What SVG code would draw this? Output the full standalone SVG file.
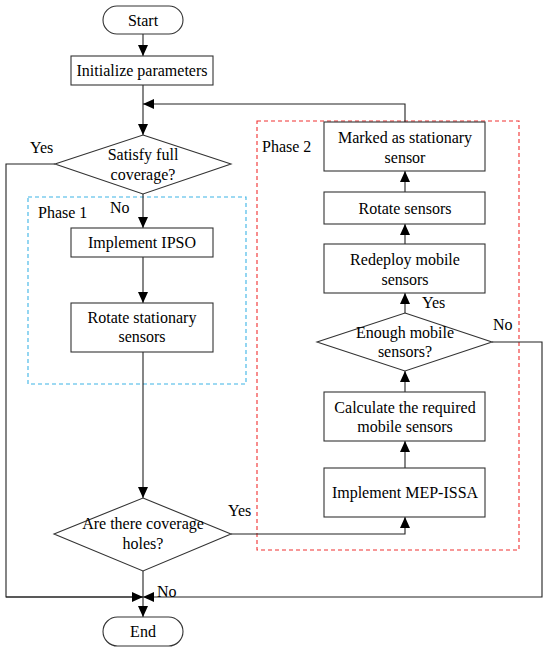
<svg xmlns="http://www.w3.org/2000/svg" width="550" height="651" viewBox="0 0 550 651" font-family="'Liberation Serif', 'DejaVu Serif', serif" font-size="16">
<defs>
<marker id="arr" markerUnits="userSpaceOnUse" markerWidth="12" markerHeight="10" refX="11" refY="5" orient="auto">
<path d="M0,0 L11,5 L0,10 Z" fill="#000"/>
</marker>
<style>
.box{fill:#fff;stroke:#333;stroke-width:1.1}
.ln{fill:none;stroke:#222;stroke-width:1.1}
.ar{fill:none;stroke:#222;stroke-width:1.1;marker-end:url(#arr)}
.t{font-family:'Liberation Serif', serif;font-size:16px;fill:#000}
.c{text-anchor:middle}
.ph1{fill:none;stroke:#3cb4e6;stroke-width:1.1;stroke-dasharray:4,3}
.ph2{fill:none;stroke:#f03030;stroke-width:1.1;stroke-dasharray:4,3}
</style>
</defs>
<rect width="550" height="651" fill="#fff"/>

<g id="phase1">
<rect class="ph1" x="28" y="197" width="218" height="187"/>
<text class="t" x="38" y="218">Phase 1</text>
</g>
<g id="phase2">
<rect class="ph2" x="257" y="121" width="262" height="429"/>
<text class="t" x="262" y="152">Phase 2</text>
</g>

<g id="connectors">
<line class="ar" x1="143" y1="34" x2="143" y2="56"/>
<line class="ar" x1="143" y1="85" x2="143" y2="135"/>
<polyline class="ar" points="405,122 405,104 143,104"/>
<polyline class="ln" points="55,164 6,164 6,597 143,597"/>
<line class="ar" x1="6" y1="597" x2="143" y2="597"/>
<polyline class="ar" points="492,342 542,342 542,597 143,597"/>
<line class="ar" x1="143" y1="194" x2="143" y2="228"/>
<line class="ar" x1="143" y1="257" x2="143" y2="303"/>
<line class="ar" x1="143" y1="352" x2="143" y2="498"/>
<line class="ar" x1="143" y1="571" x2="143" y2="617"/>
<polyline class="ar" points="231,534 405,534 405,517"/>
<line class="ar" x1="405" y1="468" x2="405" y2="441"/>
<line class="ar" x1="405" y1="392" x2="405" y2="371"/>
<line class="ar" x1="405" y1="313" x2="405" y2="293"/>
<line class="ar" x1="405" y1="244" x2="405" y2="224"/>
<line class="ar" x1="405" y1="192" x2="405" y2="171"/>
<text class="t" x="30" y="153">Yes</text>
<text class="t" x="110" y="213">No</text>
<text class="t" x="228" y="516">Yes</text>
<text class="t" x="157" y="597">No</text>
<text class="t" x="422" y="308">Yes</text>
<text class="t" x="493" y="330">No</text>
</g>

<g id="start">
<rect class="box" x="103" y="6" width="80" height="28" rx="14"/>
<text class="t c" x="143" y="26">Start</text>
</g>
<g id="init">
<rect class="box" x="71" y="56" width="142" height="29"/>
<text class="t c" x="142" y="76">Initialize parameters</text>
</g>
<g id="satisfy">
<polygon class="box" points="143,135 231,164 143,194 55,164"/>
<text class="t c" x="143" y="160">Satisfy full</text>
<text class="t c" x="143" y="180">coverage?</text>
</g>
<g id="ipso">
<rect class="box" x="71" y="228" width="142" height="29"/>
<text class="t c" x="142" y="248">Implement IPSO</text>
</g>
<g id="rotstat">
<rect class="box" x="71" y="303" width="142" height="49"/>
<text class="t c" x="142" y="323">Rotate stationary</text>
<text class="t c" x="142" y="342">sensors</text>
</g>
<g id="holes">
<polygon class="box" points="143,498 231,534 143,571 54,534"/>
<text class="t c" x="143" y="529">Are there coverage</text>
<text class="t c" x="143" y="549">holes?</text>
</g>
<g id="end">
<rect class="box" x="103" y="617" width="80" height="29" rx="14.5"/>
<text class="t c" x="143" y="637">End</text>
</g>
<g id="marked">
<rect class="box" x="324" y="122" width="161" height="49"/>
<text class="t c" x="405" y="143">Marked as stationary</text>
<text class="t c" x="405" y="163">sensor</text>
</g>
<g id="rotsens">
<rect class="box" x="324" y="192" width="161" height="32"/>
<text class="t c" x="405" y="214">Rotate sensors</text>
</g>
<g id="redeploy">
<rect class="box" x="324" y="244" width="161" height="49"/>
<text class="t c" x="405" y="265">Redeploy mobile</text>
<text class="t c" x="405" y="285">sensors</text>
</g>
<g id="enough">
<polygon class="box" points="405,313 492,342 405,371 317,342"/>
<text class="t c" x="405" y="338">Enough mobile</text>
<text class="t c" x="405" y="357">sensors?</text>
</g>
<g id="calc">
<rect class="box" x="324" y="392" width="161" height="49"/>
<text class="t c" x="405" y="413">Calculate the required</text>
<text class="t c" x="405" y="432">mobile sensors</text>
</g>
<g id="mep">
<rect class="box" x="324" y="468" width="161" height="49"/>
<text class="t c" x="405" y="498">Implement MEP-ISSA</text>
</g>
</svg>
